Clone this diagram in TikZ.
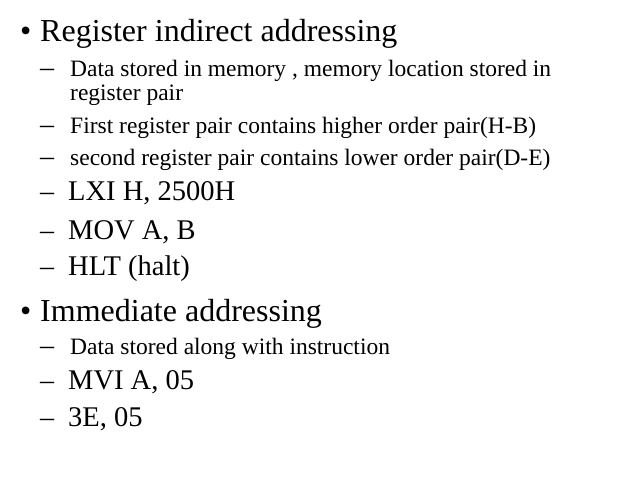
\documentclass[tikz,border=0pt]{standalone}
\usepackage{fontspec}
\setmainfont{Liberation Serif}
\begin{document}
\begin{tikzpicture}[x=1pt,y=1pt,
  lone/.style={anchor=base west,inner sep=0pt,font=\fontsize{32}{34}\selectfont},
  ltwo/.style={anchor=base west,inner sep=0pt,font=\fontsize{23.5}{25}\selectfont},
  dsh/.style={anchor=base west,inner sep=0pt,font=\fontsize{28}{30}\selectfont},
  lbig/.style={anchor=base west,inner sep=0pt,font=\fontsize{28.5}{30}\selectfont}]
\useasboundingbox (0,0) rectangle (638,-478);
\node[lone] (b1) at (20,-42) {•};
\node[lone] (t1) at (40,-42) {Register indirect addressing};
\node[dsh] (d2) at (40,-77) {–};
\node[ltwo] (t2) at (70,-77) {Data stored in memory , memory location stored in};
\node[ltwo] (t2b) at (70,-101) {register pair};
\node[dsh] (d3) at (40,-134) {–};
\node[ltwo] (t3) at (70,-134) {First register pair contains higher order pair(H-B)};
\node[dsh] (d4) at (40,-166) {–};
\node[ltwo] (t4) at (70,-166) {second register pair contains lower order pair(D-E)};
\node[dsh] (d5) at (40,-201) {–};
\node[lbig] (t5) at (68,-201) {LXI H, 2500H};
\node[dsh] (d6) at (40,-240) {–};
\node[lbig] (t6) at (68,-240) {MOV A, B};
\node[dsh] (d7) at (40,-276) {–};
\node[lbig] (t7) at (68,-276) {HLT (halt)};
\node[lone] (b8) at (20,-322) {•};
\node[lone] (t8) at (40,-322) {Immediate addressing};
\node[dsh] (d9) at (40,-355) {–};
\node[ltwo] (t9) at (70,-355) {Data stored along with instruction};
\node[dsh] (d10) at (40,-390) {–};
\node[lbig] (t10) at (68,-390) {MVI A, 05};
\node[dsh] (d11) at (40,-427) {–};
\node[lbig] (t11) at (68,-427) {3E, 05};
\end{tikzpicture}
\end{document}
